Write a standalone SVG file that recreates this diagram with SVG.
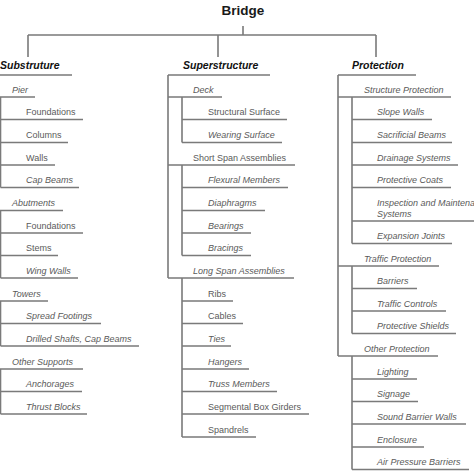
<svg xmlns="http://www.w3.org/2000/svg" width="474" height="474" viewBox="0 0 474 474">
<style>
text{font-family:"Liberation Sans",Arial,sans-serif}
.t{font-size:13.5px;font-weight:bold;fill:#1a1a1a;text-anchor:middle}
.h{font-size:10.5px;font-weight:bold;font-style:italic;fill:#111}
.i{font-size:9px;font-style:italic;fill:#5a5a5a}
.u{font-size:9px;fill:#5a5a5a}
.c path{fill:none;stroke:#7a7a7a;stroke-width:1.6}
</style>
<rect width="474" height="474" fill="#fff"/>
<g class="c" id="connectors">
<path d="M243 26V35M28 35H376M28 35V57M218 35V57M376 35V57"/>
<path d="M-13 75H72M-13 75V369M-13 97H35M-13 210.5H63M-13 301H48M-13 369H83"/>
<path d="M0.5 97V187.5M0.5 119.5H83M0.5 142.5H68M0.5 165H55M0.5 187.5H79"/>
<path d="M0.5 210.5V278M0.5 233H83M0.5 255.5H58M0.5 278H78"/>
<path d="M0.5 301V346M0.5 323.5H101M0.5 346H139"/>
<path d="M0.5 369V414M0.5 391.5H82M0.5 414H87"/>
<path d="M168 75H270M168 75V278M168 97H222M168 165H295M168 278H294"/>
<path d="M182 97V142.5M182 119.5H287M182 142.5H282"/>
<path d="M182 165V255.5M182 187.5H288M182 210.5H265M182 233H251M182 255.5H251"/>
<path d="M182 278V437M182 301H233M182 323.5H243M182 346H231M182 369H249M182 391.5H277M182 414H309M182 437H256"/>
<path d="M338 75H416M338 75V356M338 97H451M338 266H439M338 356H438"/>
<path d="M352 97V243.5M352 119.5H432M352 142.5H452M352 165H458M352 187.5H451M352 221H476M352 243.5H452"/>
<path d="M352 266V333.5M352 288.5H417M352 311H446M352 333.5H456"/>
<path d="M352 356V469.5M352 379H417M352 401.5H418M352 424H466M352 447H424M352 469.5H469"/>
</g>
<g id="bridge"><text class="t" x="243" y="14.5">Bridge</text></g>
<g id="substructure"><text class="h" x="0" y="69">Substruture</text></g>
<g id="pier"><text class="i" x="12" y="92.5">Pier</text></g>
<g id="pier-foundations"><text class="u" x="26" y="115">Foundations</text></g>
<g id="columns"><text class="u" x="26" y="138">Columns</text></g>
<g id="walls"><text class="u" x="26" y="160.5">Walls</text></g>
<g id="cap-beams"><text class="i" x="26" y="183">Cap Beams</text></g>
<g id="abutments"><text class="i" x="12" y="206">Abutments</text></g>
<g id="abutment-foundations"><text class="u" x="26" y="228.5">Foundations</text></g>
<g id="stems"><text class="u" x="26" y="251">Stems</text></g>
<g id="wing-walls"><text class="i" x="26" y="273.5">Wing Walls</text></g>
<g id="towers"><text class="i" x="12" y="296.5">Towers</text></g>
<g id="spread-footings"><text class="i" x="26" y="319">Spread Footings</text></g>
<g id="drilled-shafts"><text class="i" x="26" y="341.5">Drilled Shafts, Cap Beams</text></g>
<g id="other-supports"><text class="i" x="12" y="364.5">Other Supports</text></g>
<g id="anchorages"><text class="i" x="26" y="387">Anchorages</text></g>
<g id="thrust-blocks"><text class="i" x="26" y="409.5">Thrust Blocks</text></g>
<g id="superstructure"><text class="h" x="183" y="69">Superstructure</text></g>
<g id="deck"><text class="i" x="193" y="92.5">Deck</text></g>
<g id="structural-surface"><text class="u" x="208" y="115">Structural Surface</text></g>
<g id="wearing-surface"><text class="i" x="208" y="138">Wearing Surface</text></g>
<g id="short-span"><text class="u" x="193" y="160.5">Short Span Assemblies</text></g>
<g id="flexural-members"><text class="i" x="208" y="183">Flexural Members</text></g>
<g id="diaphragms"><text class="i" x="208" y="206">Diaphragms</text></g>
<g id="bearings"><text class="i" x="208" y="228.5">Bearings</text></g>
<g id="bracings"><text class="i" x="208" y="251">Bracings</text></g>
<g id="long-span"><text class="i" x="193" y="273.5">Long Span Assemblies</text></g>
<g id="ribs"><text class="u" x="208" y="296.5">Ribs</text></g>
<g id="cables"><text class="u" x="208" y="319">Cables</text></g>
<g id="ties"><text class="i" x="208" y="341.5">Ties</text></g>
<g id="hangers"><text class="i" x="208" y="364.5">Hangers</text></g>
<g id="truss-members"><text class="i" x="208" y="387">Truss Members</text></g>
<g id="segmental-box-girders"><text class="u" x="208" y="409.5">Segmental Box Girders</text></g>
<g id="spandrels"><text class="u" x="208" y="432.5">Spandrels</text></g>
<g id="protection"><text class="h" x="352" y="69">Protection</text></g>
<g id="structure-protection"><text class="i" x="364" y="92.5">Structure Protection</text></g>
<g id="slope-walls"><text class="i" x="377" y="115">Slope Walls</text></g>
<g id="sacrificial-beams"><text class="i" x="377" y="138">Sacrificial Beams</text></g>
<g id="drainage-systems"><text class="i" x="377" y="160.5">Drainage Systems</text></g>
<g id="protective-coats"><text class="i" x="377" y="183">Protective Coats</text></g>
<g id="inspection"><text class="i" x="377" y="205.5">Inspection and Maintenance</text><text class="i" x="377" y="216.5">Systems</text></g>
<g id="expansion-joints"><text class="i" x="377" y="239">Expansion Joints</text></g>
<g id="traffic-protection"><text class="i" x="364" y="261.5">Traffic Protection</text></g>
<g id="barriers"><text class="i" x="377" y="284">Barriers</text></g>
<g id="traffic-controls"><text class="i" x="377" y="306.5">Traffic Controls</text></g>
<g id="protective-shields"><text class="i" x="377" y="329">Protective Shields</text></g>
<g id="other-protection"><text class="i" x="364" y="351.5">Other Protection</text></g>
<g id="lighting"><text class="i" x="377" y="374.5">Lighting</text></g>
<g id="signage"><text class="i" x="377" y="397">Signage</text></g>
<g id="sound-barrier-walls"><text class="i" x="377" y="419.5">Sound Barrier Walls</text></g>
<g id="enclosure"><text class="i" x="377" y="442.5">Enclosure</text></g>
<g id="air-pressure-barriers"><text class="i" x="377" y="465">Air Pressure Barriers</text></g>
</svg>
